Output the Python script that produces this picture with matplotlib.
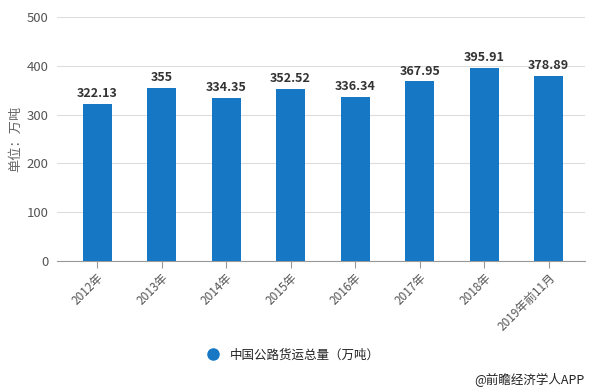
import matplotlib
matplotlib.use("Agg")
import matplotlib.pyplot as plt
from matplotlib.lines import Line2D

plt.rcParams['font.family'] = ['Noto Sans CJK SC', 'DejaVu Sans']

categories = ["2012年", "2013年", "2014年", "2015年", "2016年", "2017年", "2018年", "2019年前11月"]
values = [322.13, 355, 334.35, 352.52, 336.34, 367.95, 395.91, 378.89]
value_labels = ["322.13", "355", "334.35", "352.52", "336.34", "367.95", "395.91", "378.89"]
yticks = [0, 100, 200, 300, 400, 500]
series_name = "中国公路货运总量（万吨）"

bar_color = "#1677c4"
fig = plt.figure(figsize=(5.92, 3.92), dpi=100)
ax = fig.add_axes([0.0963, 0.334, 0.8917, 0.6226])

x = list(range(len(categories)))
ax.bar(x, values, width=0.45, color=bar_color, zorder=3)
for xi, v, lab in zip(x, values, value_labels):
    ax.text(xi, v + 8, lab, ha='center', va='bottom', fontsize=9, fontweight='bold', color='#333333', zorder=4)

ax.set_ylim(0, 500)
ax.set_xlim(-0.62, 7.56)
ax.set_yticks(yticks)
ax.set_xticks(x)
ax.set_xticklabels(categories, rotation=45, ha='right', rotation_mode='anchor', fontsize=8.5, color='#555555')
ax.tick_params(axis='y', length=0, labelsize=9.5, labelcolor='#555555', pad=6)
ax.tick_params(axis='x', length=5, color='#999999', pad=2)
ax.grid(axis='y', color='#dddddd', linewidth=0.8, zorder=0)
for s in ['top', 'right', 'left']:
    ax.spines[s].set_visible(False)
ax.spines['bottom'].set_color('#999999')
ax.spines['bottom'].set_linewidth(0.8)

ax.set_ylabel("单位：万吨", fontsize=9.5, color='#666666', labelpad=3)

handle = Line2D([], [], marker='o', linestyle='none', markersize=8, markerfacecolor=bar_color, markeredgecolor=bar_color)
fig.legend([handle], [series_name], loc='center', bbox_to_anchor=(0.49, 0.094), frameon=False,
           fontsize=9, handletextpad=0.3, labelcolor='#222222')

fig.text(0.988, 0.03, "@前瞻经济学人APP", ha='right', va='center', fontsize=9, color='#222222')

fig.savefig("out.png", dpi=100)
